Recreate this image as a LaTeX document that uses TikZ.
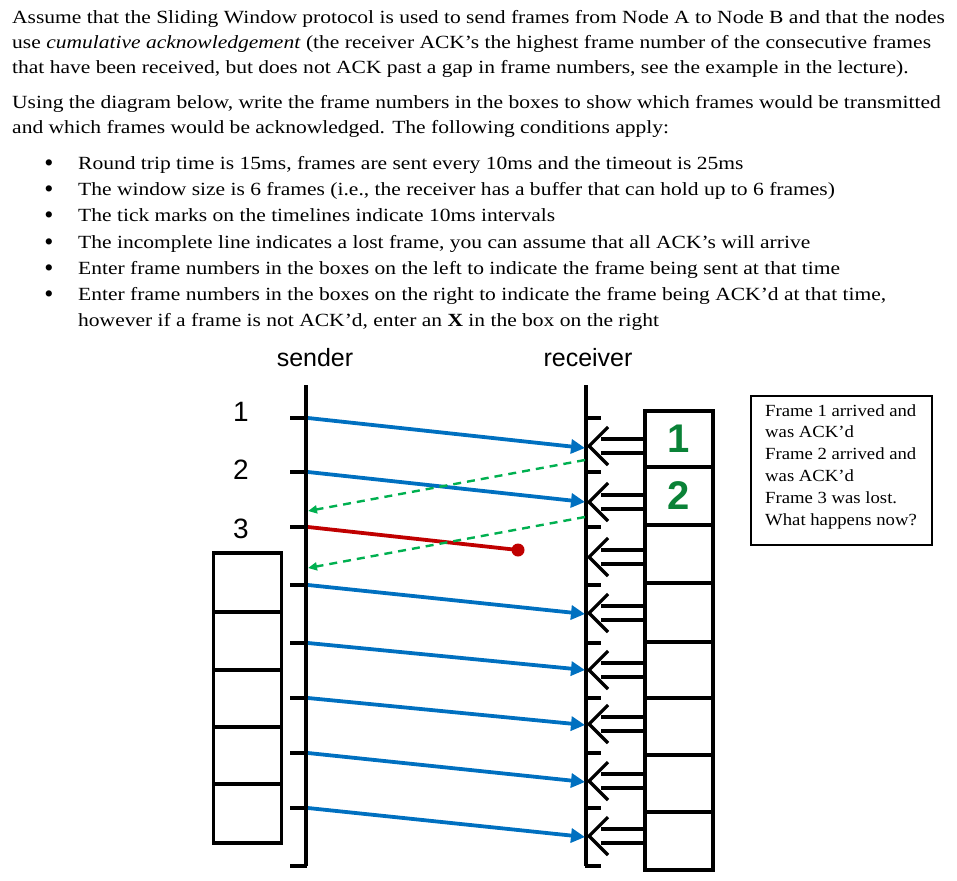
\documentclass[tikz,border=0pt]{standalone}
\usepackage{fontspec}
\setmainfont{Liberation Serif}
\newfontfamily\arialf{Liberation Sans}
\usetikzlibrary{arrows.meta}
\definecolor{fblue}{RGB}{0,112,192}
\definecolor{fred}{RGB}{192,0,0}
\definecolor{fgreen}{RGB}{0,176,80}
\definecolor{hgreen}{RGB}{10,130,55}
\newcommand{\wtx}[1]{\scalebox{1.157}[1]{#1}}
\newcommand{\wnt}[1]{\scalebox{1.1}[1]{#1}}
\begin{document}
\begin{tikzpicture}[x=1pt,y=-1pt,
  txt/.style={anchor=base west,inner sep=0pt,font=\fontsize{18.6}{20}\selectfont},
  bul/.style={anchor=base,inner sep=0pt,font=\fontsize{26}{20}\selectfont},
  box/.style={draw,line width=3.4pt,minimum width=68pt,inner sep=0pt},
  tline/.style={line width=4.4pt},
  tick/.style={line width=3.4pt},
  frame/.style={fblue,line width=3.8pt,-{Triangle[length=14pt,width=14pt]}},
  ack/.style={fgreen,line width=2.4pt,dash pattern=on 8pt off 6pt,-{Triangle[length=9pt,width=8pt]}},
  hol/.style={line width=3.2pt},
  lbl/.style={font=\arialf\fontsize{25}{25}\selectfont,inner sep=0pt},
  num/.style={font=\arialf\fontsize{28}{28}\selectfont,inner sep=0pt}]
\useasboundingbox (0,0) rectangle (957,880);
% text
\node[txt] (l1) at (12,24) {\wtx{Assume that the Sliding Window protocol is used to send frames from Node A to Node B and that the nodes}};
\node[txt] (l2) at (12,49) {\wtx{use \textit{cumulative acknowledgement} (the receiver ACK's the highest frame number of the consecutive frames}};
\node[txt] (l3) at (12,74) {\wtx{that have been received, but does not ACK past a gap in frame numbers, see the example in the lecture).}};
\node[txt] (l4) at (12,108) {\wtx{Using the diagram below, write the frame numbers in the boxes to show which frames would be transmitted}};
\node[txt] (l5) at (12,133) {\wtx{and which frames would be acknowledged. The following conditions apply:}};
\foreach \yy/\t [count=\i] in {169/{Round trip time is 15ms, frames are sent every 10ms and the timeout is 25ms},
  195/{The window size is 6 frames (i.e., the receiver has a buffer that can hold up to 6 frames)},
  221/{The tick marks on the timelines indicate 10ms intervals},
  248/{The incomplete line indicates a lost frame, you can assume that all ACK's will arrive},
  274/{Enter frame numbers in the boxes on the left to indicate the frame being sent at that time},
  300/{Enter frame numbers in the boxes on the right to indicate the frame being ACK'd at that time,}}{
  \node[bul] (b\i) at (49,\yy+2) {\textbullet};
  \node[txt] (bt\i) at (78,\yy) {\wtx{\t}};}
\node[txt] (l12) at (78,326) {\wtx{however if a frame is not ACK'd, enter an \textbf{X} in the box on the right}};
% titles
\node[lbl] (snd) at (315,358) {sender};
\node[lbl] (rcv) at (588,358) {receiver};
% timelines
\draw[tline] (306,385) -- (306,866);
\draw[tline] (586,385) -- (586,866);
\foreach \t in {418,472,527,585,643,698,753,808,866}{
  \draw[tick] (290,\t) -- (307,\t);
  \draw[tick] (585,\t) -- (601,\t);}
\node[num] (n1) at (241,412) {1};
\node[num] (n2) at (241,470) {2};
\node[num] (n3) at (241,529) {3};
% left boxes
\foreach \a/\b [count=\i] in {553/612,612/670,670/727,727/784,784/843}{
  \node[box,minimum height={\b-\a}] (lb\i) at (247.5,{(\a+\b)/2}) {};}
% right boxes
\foreach \a/\b [count=\i] in {411/467,467/525,525/583,583/642,642/698,698/755,755/812,812/870}{
  \node[box,minimum height={\b-\a}] (rb\i) at (679,{(\a+\b)/2}) {};}
\node[font=\arialf\bfseries\fontsize{40}{40}\selectfont,text=hgreen] at (rb1) {1};
\node[font=\arialf\bfseries\fontsize{40}{40}\selectfont,text=hgreen] at (rb2) {2};
% hollow arrows
\foreach \y in {446,502,557,613,670,724,781,836}{
  \draw[hol] (645,\y-7) -- (601,\y-7) (645,\y+7) -- (601,\y+7);
  \draw[hol] (608,\y-19) -- (589,\y) -- (608,\y+19);}
% frames
\foreach \s/\e in {418/448,472/502,585/614,643/670,698/725,753/782,808/837}{
  \coordinate (fs) at (308,\s); \coordinate (fe) at (585,\e);
  \draw[frame] (fs) -- (fe);}
\coordinate (ls) at (308,527); \coordinate (le) at (518,550);
\draw[fred,line width=3.8pt] (ls) -- (le);
\fill[fred] (le) circle (6.5pt);
% acks
\coordinate (a1s) at (585,460); \coordinate (a1e) at (308,511);
\coordinate (a2s) at (585,517); \coordinate (a2e) at (308,568);
\draw[ack] (a1s) -- (a1e);
\draw[ack] (a2s) -- (a2e);
% note
\draw[line width=1.2pt] (751,396) rectangle (932,545);
\node[anchor=north west,align=left,inner sep=0pt,font=\fontsize{17}{21.8}\selectfont] (note) at (765,404)
 {\wnt{Frame 1 arrived and}\\\wnt{was ACK'd}\\\wnt{Frame 2 arrived and}\\\wnt{was ACK'd}\\\wnt{Frame 3 was lost.}\\\wnt{What happens now?}};
\end{tikzpicture}
\end{document}
